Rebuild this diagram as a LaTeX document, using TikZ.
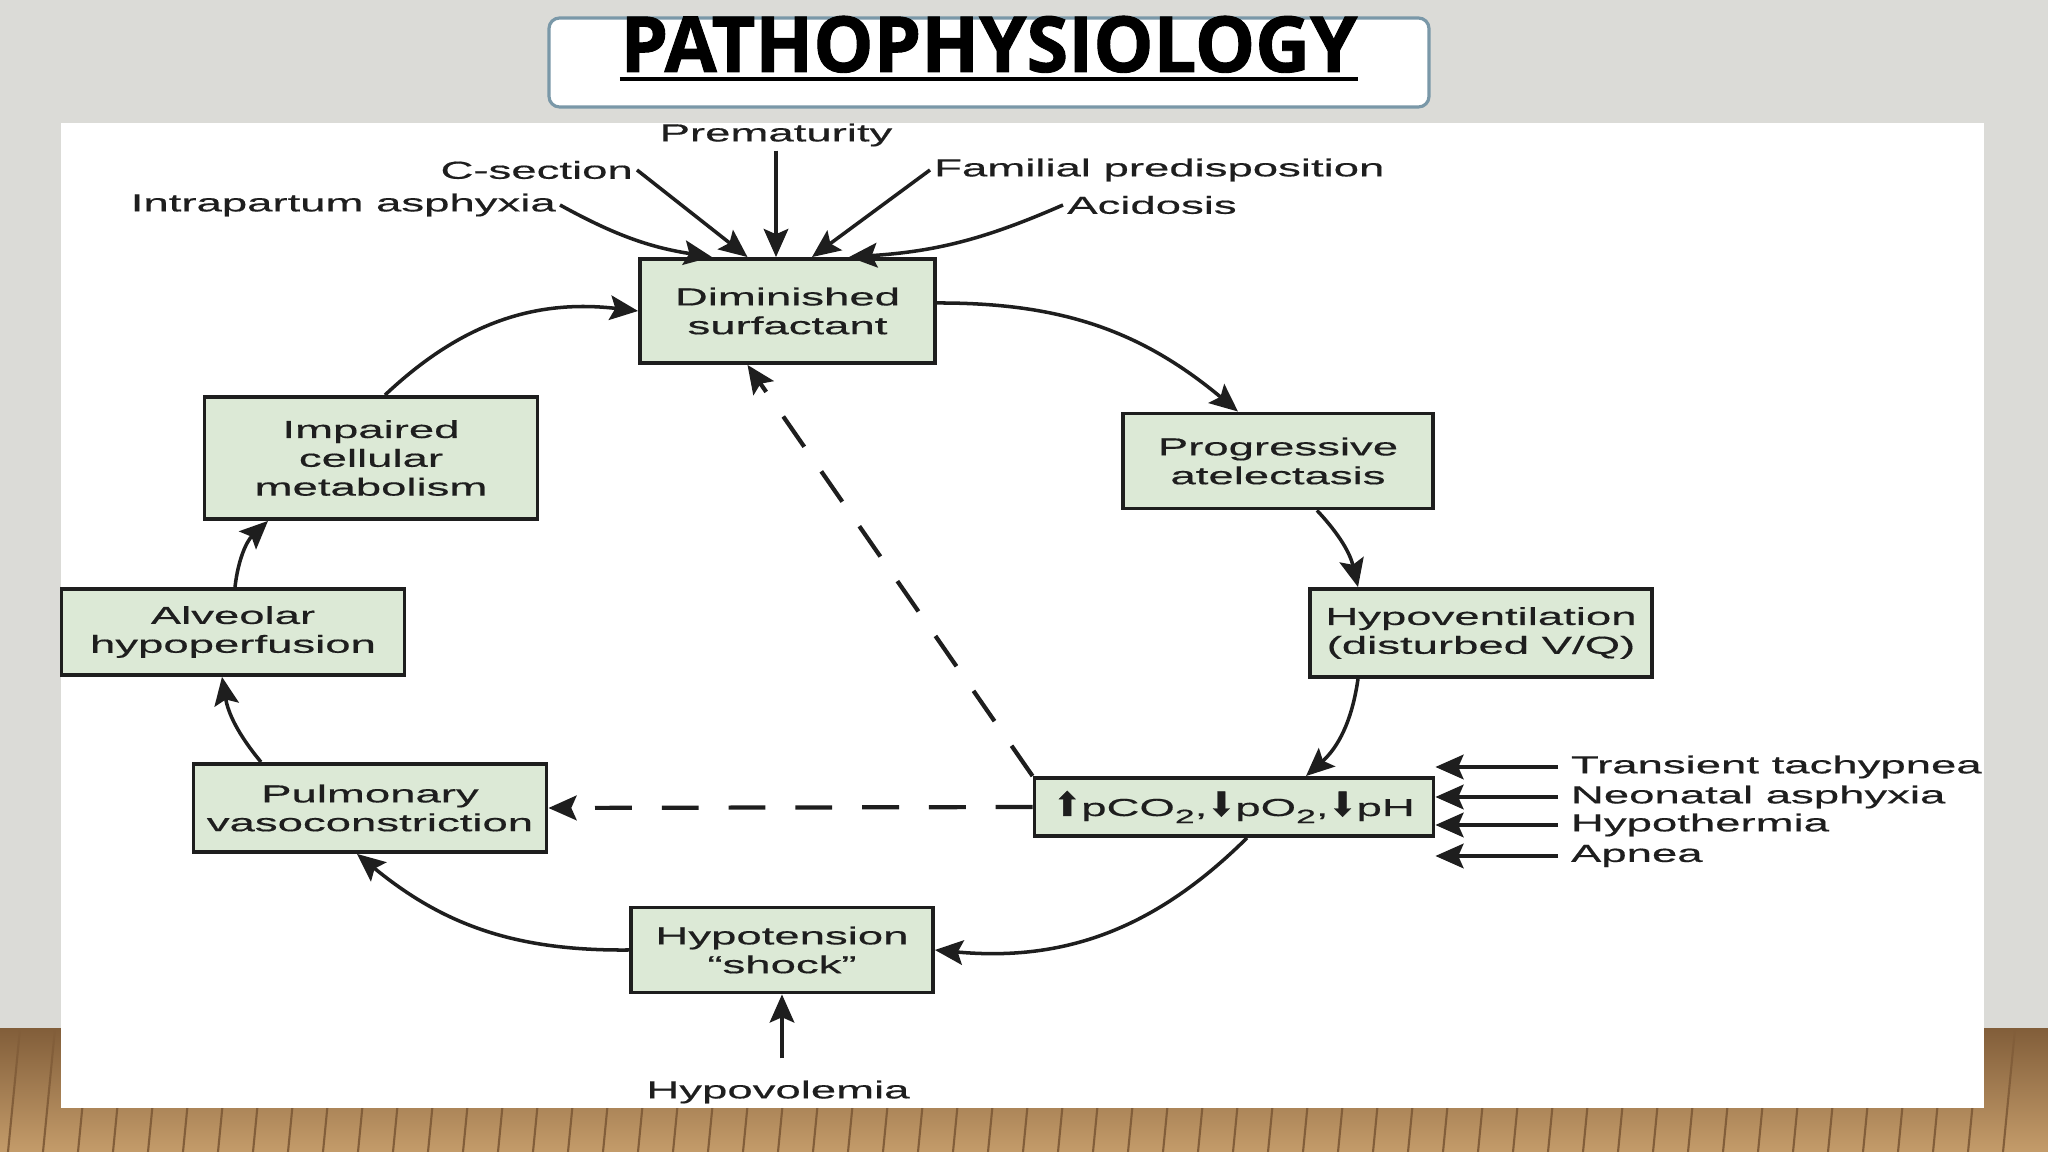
\documentclass[tikz,border=0pt]{standalone}
\usepackage{fontspec}
\usepackage{tikz}
\usetikzlibrary{arrows.meta, positioning, calc}
\newfontfamily\diafont[FakeStretch=1.85, FakeBold=0.5]{Liberation Sans}
\newfontfamily\titlefont[FakeStretch=0.98, FakeBold=1.2]{Open Sans}
\newfontfamily\symfont[FakeBold=1]{DejaVu Sans}
\definecolor{slidegray}{RGB}{219,219,215}
\definecolor{woodtan}{RGB}{196,156,106}
\definecolor{wooddark}{RGB}{130,94,58}
\definecolor{framesteel}{RGB}{122,152,168}
\definecolor{boxgreen}{RGB}{220,233,214}
\definecolor{inkdark}{RGB}{30,30,30}
\newcommand{\subtwo}{\raisebox{-0.55ex}{\fontsize{5.5}{5.5}\selectfont 2}}
\newcommand{\uparr}{{\symfont\fontsize{9.5}{9.5}\selectfont ⬆}}
\newcommand{\dnarr}{{\symfont\fontsize{9.5}{9.5}\selectfont ⬇}}
\tikzset{
  stage/.style    = {rectangle, draw=inkdark, fill=boxgreen, line width=1.1pt, align=center, inner sep=1pt, text=inkdark, font=\diafont\fontsize{7}{8.2}\selectfont},
  cause/.style    = {inner sep=1pt, text=inkdark, font=\diafont\fontsize{7}{8.2}\selectfont},
  flow/.style     = {-{Stealth[length=8pt, width=7pt, inset=1.5pt]}, line width=1pt, inkdark},
  feedback/.style = {flow, line width=1.2pt, dash pattern=on 10.5pt off 8.5pt},
  woodline/.style = {wooddark, line width=0.6pt},
}
\begin{document}
\begin{tikzpicture}
  \useasboundingbox (0,0) rectangle (20.48,11.52);
  % slide and floor
  \fill[slidegray] (0,0) rectangle (20.48,11.52);
  \shade[top color=wooddark, bottom color=woodtan] (0,0) rectangle (20.48,1.23);
  \foreach \x in {0.2,0.55,...,20.4}
    \draw[woodline] (\x,1.23) -- (\x-0.12,0);
  \fill[white] (0.61,0.44) rectangle (19.84,10.29);

  % title
  \draw[framesteel, fill=white, line width=0.9pt, rounded corners=3pt] (5.49,10.45) rectangle (14.29,11.34);
  \node[inner sep=0pt, anchor=base, font=\titlefont\bfseries\fontsize{22}{22}\selectfont] (title) at (9.89,10.80) {PATHOPHYSIOLOGY};
  \draw[line width=1.1pt] ([yshift=-1.9pt]title.base west) -- ([yshift=-1.9pt]title.base east);

  % cycle
  \node[stage, minimum width=2.95cm, minimum height=1.04cm] (dim)   at (7.875,8.41) {Diminished\\surfactant};
  \node[stage, minimum width=3.10cm, minimum height=0.95cm] (prog)  at (12.78,6.91) {Progressive\\atelectasis};
  \node[stage, minimum width=3.42cm, minimum height=0.88cm] (hypo)  at (14.81,5.19) {Hypoventilation\\(disturbed V/Q)};
  \node[stage, minimum width=3.99cm, minimum height=0.58cm] (gas)   at (12.34,3.45) {\uparr pCO\subtwo,\dnarr pO\subtwo,\dnarr pH};
  \node[stage, minimum width=3.02cm, minimum height=0.85cm] (shock) at (7.82,2.02) {Hypotension\\“shock”};
  \node[stage, minimum width=3.53cm, minimum height=0.88cm] (vaso)  at (3.70,3.44) {Pulmonary\\vasoconstriction};
  \node[stage, minimum width=3.43cm, minimum height=0.86cm] (alv)   at (2.33,5.20) {Alveolar\\hypoperfusion};
  \node[stage, minimum width=3.33cm, minimum height=1.22cm] (cell)  at (3.71,6.94) {Impaired\\cellular\\metabolism};

  \draw[flow] ([yshift=0.08cm]dim.east) to[bend left=20] ([xshift=-0.40cm]prog.north);
  \draw[flow] ([xshift=0.39cm]prog.south) to[bend left=15] ([xshift=-1.23cm]hypo.north);
  \draw[flow] ([xshift=-1.23cm]hypo.south) to[bend left=20] ([xshift=0.72cm]gas.north);
  \draw[flow] ([xshift=0.13cm]gas.south) to[bend left=25] (shock.east);
  \draw[flow] (shock.west) to[bend left=20] ([xshift=-0.13cm]vaso.south);
  \draw[flow] ([xshift=-1.09cm]vaso.north) to[bend left=15] ([xshift=-0.11cm]alv.south);
  \draw[flow] ([xshift=0.02cm]alv.north) to[bend left=20] ([xshift=-1.03cm]cell.south);
  \draw[flow] ([xshift=0.14cm]cell.north) to[bend left=25] (dim.west);

  \draw[feedback] (gas.north west) -- ([xshift=-0.40cm]dim.south);
  \draw[feedback] (gas.west) -- (vaso.east);

  % causes
  \node[cause] (prem)  at (7.76,10.17) {Prematurity};
  \node[cause, anchor=east] (csec)  at (6.37,9.82) {C-section};
  \node[cause, anchor=east] (intra) at (5.60,9.47) {Intrapartum asphyxia};
  \node[cause, anchor=west] (fam)   at (9.30,9.82) {Familial predisposition};
  \node[cause, anchor=west] (acid)  at (10.63,9.47) {Acidosis};

  \draw[flow] (intra.east) to[bend right=10] ([xshift=-0.755cm]dim.north);
  \draw[flow] (csec.east) -- ([xshift=-0.40cm]dim.north);
  \draw[flow] (prem.south) -- (prem.south |- dim.north);
  \draw[flow] (fam.west) -- ([xshift=0.245cm]dim.north);
  \draw[flow] (acid.west) to[bend left=10] ([xshift=0.615cm]dim.north);

  \node[cause, anchor=west, inner sep=3.5pt] (tt)  at (15.58,3.85) {Transient tachypnea};
  \node[cause, anchor=west, inner sep=3.5pt] (na)  at (15.58,3.55) {Neonatal asphyxia};
  \node[cause, anchor=west, inner sep=3.5pt] (ht)  at (15.58,3.27) {Hypothermia};
  \node[cause, anchor=west, inner sep=3.5pt] (apn) at (15.58,2.96) {Apnea};
  \foreach \n in {tt,na,ht,apn}
    \draw[flow] (\n.west) -- (\n.west -| gas.east);

  \node[cause] (hvol) at (7.78,0.60) {Hypovolemia};
  \draw[flow] ($(hvol.north -| shock.south)+(0,0.18)$) -- (shock.south);
\end{tikzpicture}
\end{document}
